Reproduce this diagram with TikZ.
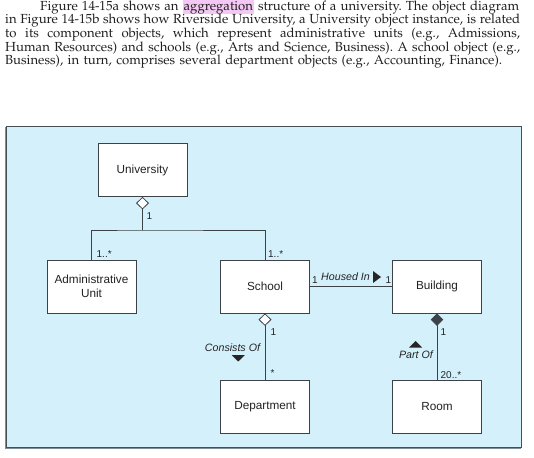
\documentclass[tikz,border=0pt]{standalone}
\usepackage[T1,TU]{fontenc}
\usepackage{fontspec}
\newfontfamily\arial{Liberation Sans}
\newcommand\palafont{\fontencoding{T1}\fontfamily{ppl}\selectfont\frenchspacing}
\usetikzlibrary{arrows.meta}
\definecolor{panelblue}{RGB}{212,241,251}
\definecolor{paneledge}{RGB}{70,78,86}
\definecolor{shadowgray}{RGB}{130,140,148}
\definecolor{boxedge}{RGB}{60,66,72}
\definecolor{inktext}{RGB}{35,35,35}
\definecolor{hlpink}{RGB}{244,200,244}
\newcommand\hlword[1]{{\setlength{\fboxsep}{0pt}\colorbox{hlpink}{\rule[-1.8bp]{0pt}{12.5bp}\hspace{1bp}#1\hspace{1bp}}}}
\tikzset{
  cls/.style={draw=boxedge, fill=white, line width=0.8bp, minimum width=89bp, minimum height=53bp,
    inner sep=0pt, align=center, text=inktext, font=\arial\fontsize{11.8}{14.5}\selectfont},
  conn/.style={draw=boxedge, line width=0.8bp},
  mult/.style={inner sep=0pt, text=inktext, font=\arial\fontsize{10}{11}\selectfont},
  rolelbl/.style={inner sep=0pt, text=inktext, font=\arial\itshape\fontsize{10.7}{12}\selectfont},
  para/.style={inner sep=0pt, anchor=base west, text=black!88, font=\palafont\fontsize{13.2}{13.6}\selectfont},
  opendia/.style={{Diamond[fill=white, length=12.5bp, width=13bp]}-},
  fulldia/.style={{Diamond[length=12.5bp, width=12.5bp]}-},
  tri/.style={fill=black!85}
}
\begin{document}
\begin{tikzpicture}[x=1bp, y=-1bp]
\useasboundingbox (0,0) rectangle (534,458);
% paragraph
\node[para] (p1) at (40,10.4) {\makebox[479bp][s]{Figure 14-15a shows an \hlword{aggregation} structure of a university. The object diagram}};
\node[para] (p2) at (5,24) {\makebox[515bp][s]{in Figure 14-15b shows how Riverside University, a University object instance, is related}};
\node[para] (p3) at (5,37.6) {\makebox[515bp][s]{to its component objects, which represent administrative units (e.g., Admissions,}};
\node[para] (p4) at (5,51.2) {\makebox[515bp][s]{Human Resources) and schools (e.g., Arts and Science, Business). A school object (e.g.,}};
\node[para] (p5) at (5,64.8) {\makebox[497bp][s]{Business), in turn, comprises several department objects (e.g., Accounting, Finance).}};
% panel
\fill[shadowgray] (5,127) rectangle (520.8,449.4);
\filldraw[fill=panelblue, draw=paneledge, line width=0.7bp] (6.5,126) rectangle (521.6,447.8);
% classes
\node[cls] (univ) at (142.5,170) {University};
\node[cls] (adm) at (91.5,286.5) {Administrative\\Unit};
\node[cls] (school) at (265,286.5) {School};
\node[cls] (bldg) at (437,286.5) {Building};
\node[cls] (dept) at (265,406.5) {Department};
\node[cls] (room) at (437,406.5) {Room};
% aggregation tree
\coordinate (bar) at (142.5,230);
\draw[conn, opendia] (univ.south) -- (bar);
\draw[conn] (adm.north) |- (bar) -| (school.north);
\node[mult, anchor=west] (m1) at (146.5,216) {1};
\node[mult, anchor=west] (m2) at (96.5,254.5) {1..*};
\node[mult, anchor=west] (m3) at (268,254.5) {1..*};
% housed in
\draw[conn] (school.east) -- (bldg.west);
\node[mult] (m4) at (315,280.5) {1};
\node[rolelbl] (housed) at (345.5,276.5) {Housed In};
\fill[tri] (373,271) -- (381,277) -- (373,283) -- cycle;
\node[mult] (m5) at (388.5,280.5) {1};
% consists of
\draw[conn, opendia] (school.south) -- (dept.north);
\node[mult, anchor=west] (m6) at (270.5,332.5) {1};
\node[rolelbl] (consists) at (232.5,347.5) {Consists Of};
\fill[tri] (231.5,355) -- (245,355) -- (238.2,361.5) -- cycle;
\node[mult, anchor=west] (m7) at (270.5,373.5) {*};
% part of
\draw[conn, fulldia] (bldg.south) -- (room.north);
\node[mult, anchor=west] (m8) at (440.5,332.5) {1};
\fill[tri] (409,347.5) -- (422,347.5) -- (415.5,341) -- cycle;
\node[rolelbl] (partof) at (416,354.5) {Part Of};
\node[mult, anchor=west] (m9) at (440.5,375) {20..*};
\end{tikzpicture}
\end{document}
